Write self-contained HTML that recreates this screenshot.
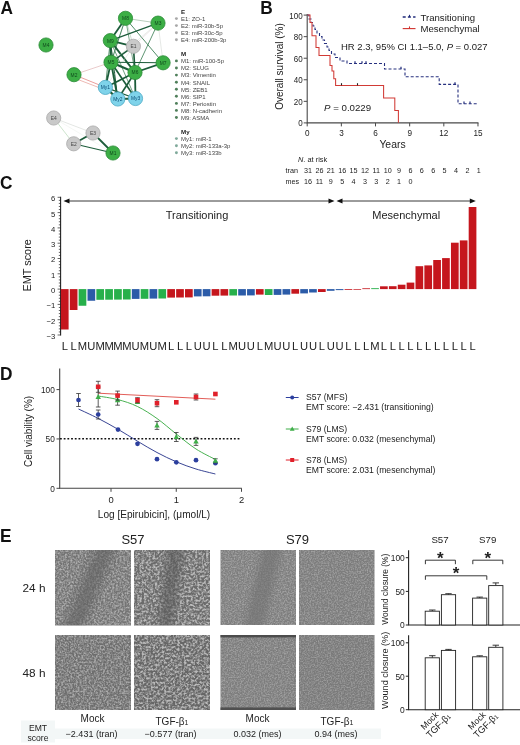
<!DOCTYPE html>
<html><head><meta charset="utf-8"><title>Figure</title>
<style>
html,body{margin:0;padding:0;background:#fff;}
body{width:520px;height:745px;overflow:hidden;}
svg{display:block;}
svg text{font-family:"Liberation Sans", sans-serif;fill:#222;}
.pl{font-weight:bold;font-size:18.8px;fill:#111;}
</style></head><body>
<svg width="520" height="745" viewBox="0 0 520 745">
<defs>
<filter id="spA" x="0" y="0" width="100%" height="100%" color-interpolation-filters="sRGB"><feTurbulence type="fractalNoise" baseFrequency="0.55" numOctaves="2" seed="3"/><feColorMatrix type="matrix" values="0 0 0 0 1  0 0 0 0 1  0 0 0 0 1  2.4 0 0 0 -0.85"/><feGaussianBlur stdDeviation="0.5"/><feComposite in2="SourceGraphic" operator="in"/></filter>
<filter id="spB" x="0" y="0" width="100%" height="100%" color-interpolation-filters="sRGB"><feTurbulence type="fractalNoise" baseFrequency="0.45" numOctaves="2" seed="11"/><feColorMatrix type="matrix" values="0 0 0 0 1  0 0 0 0 1  0 0 0 0 1  3.0 0 0 0 -1.15"/><feGaussianBlur stdDeviation="0.6"/><feComposite in2="SourceGraphic" operator="in"/></filter>
<filter id="spC" x="0" y="0" width="100%" height="100%" color-interpolation-filters="sRGB"><feTurbulence type="fractalNoise" baseFrequency="0.7" numOctaves="2" seed="5"/><feColorMatrix type="matrix" values="0 0 0 0 1  0 0 0 0 1  0 0 0 0 1  2.2 0 0 0 -0.8"/><feGaussianBlur stdDeviation="0.45"/><feComposite in2="SourceGraphic" operator="in"/></filter>
<filter id="spD" x="0" y="0" width="100%" height="100%" color-interpolation-filters="sRGB"><feTurbulence type="fractalNoise" baseFrequency="0.75" numOctaves="2" seed="21"/><feColorMatrix type="matrix" values="0 0 0 0 1  0 0 0 0 1  0 0 0 0 1  4 0 0 0 -1.9"/><feGaussianBlur stdDeviation="0.45"/><feComposite in2="SourceGraphic" operator="in"/></filter>
<linearGradient id="m1" x1="0" y1="0.3" x2="1" y2="0.7"><stop offset="0.000" stop-color="#fff" stop-opacity="1"/><stop offset="0.270" stop-color="#fff" stop-opacity="1"/><stop offset="0.420" stop-color="#fff" stop-opacity="0.4"/><stop offset="0.500" stop-color="#fff" stop-opacity="0.4"/><stop offset="0.650" stop-color="#fff" stop-opacity="1"/><stop offset="1.000" stop-color="#fff" stop-opacity="1"/></linearGradient>
<linearGradient id="d1" x1="0" y1="0.3" x2="1" y2="0.7"><stop offset="0.000" stop-color="#000" stop-opacity="0"/><stop offset="0.260" stop-color="#000" stop-opacity="0"/><stop offset="0.420" stop-color="#000" stop-opacity="0.1"/><stop offset="0.500" stop-color="#000" stop-opacity="0.1"/><stop offset="0.660" stop-color="#000" stop-opacity="0"/><stop offset="1.000" stop-color="#000" stop-opacity="0"/></linearGradient>
<linearGradient id="m2" x1="0" y1="0.435" x2="1" y2="0.565"><stop offset="0.000" stop-color="#fff" stop-opacity="1"/><stop offset="0.310" stop-color="#fff" stop-opacity="1"/><stop offset="0.440" stop-color="#fff" stop-opacity="0.4"/><stop offset="0.520" stop-color="#fff" stop-opacity="0.4"/><stop offset="0.650" stop-color="#fff" stop-opacity="1"/><stop offset="1.000" stop-color="#fff" stop-opacity="1"/></linearGradient>
<linearGradient id="d2" x1="0" y1="0.435" x2="1" y2="0.565"><stop offset="0.000" stop-color="#000" stop-opacity="0"/><stop offset="0.300" stop-color="#000" stop-opacity="0"/><stop offset="0.440" stop-color="#000" stop-opacity="0.1"/><stop offset="0.520" stop-color="#000" stop-opacity="0.1"/><stop offset="0.660" stop-color="#000" stop-opacity="0"/><stop offset="1.000" stop-color="#000" stop-opacity="0"/></linearGradient>
<linearGradient id="m3" x1="0" y1="0.385" x2="1" y2="0.615"><stop offset="0.000" stop-color="#fff" stop-opacity="1"/><stop offset="0.380" stop-color="#fff" stop-opacity="1"/><stop offset="0.500" stop-color="#fff" stop-opacity="0.4"/><stop offset="0.620" stop-color="#fff" stop-opacity="0.4"/><stop offset="0.740" stop-color="#fff" stop-opacity="1"/><stop offset="1.000" stop-color="#fff" stop-opacity="1"/></linearGradient>
<linearGradient id="d3" x1="0" y1="0.385" x2="1" y2="0.615"><stop offset="0.000" stop-color="#000" stop-opacity="0"/><stop offset="0.370" stop-color="#000" stop-opacity="0"/><stop offset="0.500" stop-color="#000" stop-opacity="0.06"/><stop offset="0.620" stop-color="#000" stop-opacity="0.06"/><stop offset="0.750" stop-color="#000" stop-opacity="0"/><stop offset="1.000" stop-color="#000" stop-opacity="0"/></linearGradient>
<linearGradient id="mfull"><stop offset="0" stop-color="#fff"/><stop offset="1" stop-color="#fff"/></linearGradient>
</defs>
<text class="pl" transform="translate(0.6,13.85) scale(0.92,1)">A</text>
<text class="pl" transform="translate(260.2,13.85) scale(0.92,1)">B</text>
<text class="pl" transform="translate(0.1,188.6) scale(0.92,1)">C</text>
<text class="pl" transform="translate(0,379.9) scale(0.92,1)">D</text>
<text class="pl" transform="translate(0,541.8) scale(0.92,1)">E</text>
<g id="panelA">
<line x1="125.5" y1="18.3" x2="158" y2="23.1" stroke="#a9c4ae" stroke-width="0.82"/>
<line x1="125.5" y1="18.3" x2="110.3" y2="40.6" stroke="#1c5c3a" stroke-width="1.80"/>
<line x1="125.5" y1="18.3" x2="111" y2="62.3" stroke="#4d8a63" stroke-width="1.07"/>
<line x1="125.5" y1="18.3" x2="133.4" y2="46.3" stroke="#a9c4ae" stroke-width="0.57"/>
<line x1="125.5" y1="18.3" x2="135" y2="72.5" stroke="#4d8a63" stroke-width="0.74"/>
<line x1="125.5" y1="18.3" x2="163.1" y2="62.8" stroke="#4d8a63" stroke-width="0.98"/>
<line x1="110.3" y1="40.6" x2="158" y2="23.1" stroke="#1c5c3a" stroke-width="1.15"/>
<line x1="110.3" y1="40.6" x2="133.4" y2="46.3" stroke="#1c5c3a" stroke-width="1.80"/>
<line x1="110.3" y1="40.6" x2="111" y2="62.3" stroke="#1c5c3a" stroke-width="2.13"/>
<line x1="110.3" y1="40.6" x2="135" y2="72.5" stroke="#1c5c3a" stroke-width="1.97"/>
<line x1="110.3" y1="40.6" x2="105.4" y2="87.4" stroke="#4d8a63" stroke-width="0.98"/>
<line x1="110.3" y1="40.6" x2="117.8" y2="99" stroke="#1c5c3a" stroke-width="1.15"/>
<line x1="110.3" y1="40.6" x2="135.5" y2="98.5" stroke="#4d8a63" stroke-width="0.82"/>
<line x1="158" y1="23.1" x2="133.4" y2="46.3" stroke="#d9c7cc" stroke-width="0.49"/>
<line x1="158" y1="23.1" x2="111" y2="62.3" stroke="#d4ddd2" stroke-width="0.49"/>
<line x1="158" y1="23.1" x2="135" y2="72.5" stroke="#4d8a63" stroke-width="0.90"/>
<line x1="158" y1="23.1" x2="163.1" y2="62.8" stroke="#c9cfc9" stroke-width="0.49"/>
<line x1="133.4" y1="46.3" x2="111" y2="62.3" stroke="#1c5c3a" stroke-width="1.48"/>
<line x1="133.4" y1="46.3" x2="135" y2="72.5" stroke="#1c5c3a" stroke-width="1.64"/>
<line x1="133.4" y1="46.3" x2="105.4" y2="87.4" stroke="#d4ddd2" stroke-width="0.49"/>
<line x1="111" y1="62.3" x2="163.1" y2="62.8" stroke="#1c5c3a" stroke-width="1.15"/>
<line x1="111" y1="62.3" x2="135" y2="72.5" stroke="#1c5c3a" stroke-width="2.13"/>
<line x1="135" y1="72.5" x2="163.1" y2="62.8" stroke="#1c5c3a" stroke-width="1.80"/>
<line x1="111" y1="62.3" x2="105.4" y2="87.4" stroke="#1c5c3a" stroke-width="1.80"/>
<line x1="111" y1="62.3" x2="117.8" y2="99" stroke="#1c5c3a" stroke-width="1.80"/>
<line x1="111" y1="62.3" x2="135.5" y2="98.5" stroke="#1c5c3a" stroke-width="1.64"/>
<line x1="135" y1="72.5" x2="105.4" y2="87.4" stroke="#1c5c3a" stroke-width="1.64"/>
<line x1="135" y1="72.5" x2="117.8" y2="99" stroke="#1c5c3a" stroke-width="1.64"/>
<line x1="135" y1="72.5" x2="135.5" y2="98.5" stroke="#1c5c3a" stroke-width="1.80"/>
<line x1="105.4" y1="87.4" x2="117.8" y2="99" stroke="#1c5c3a" stroke-width="2.13"/>
<line x1="117.8" y1="99" x2="135.5" y2="98.5" stroke="#1c5c3a" stroke-width="2.13"/>
<line x1="105.4" y1="87.4" x2="135.5" y2="98.5" stroke="#1c5c3a" stroke-width="1.31"/>
<line x1="74" y1="74.7" x2="111" y2="62.3" stroke="#d9a3a3" stroke-width="0.57"/>
<line x1="74" y1="74.7" x2="105.4" y2="87.4" stroke="#d9534f" stroke-width="0.57"/>
<line x1="53.7" y1="118" x2="93" y2="133" stroke="#cfd5cf" stroke-width="0.57"/>
<line x1="53.7" y1="118" x2="73.7" y2="143.8" stroke="#a6cfa6" stroke-width="0.57"/>
<line x1="53.7" y1="118" x2="113" y2="153" stroke="#e3ebe3" stroke-width="0.41"/>
<line x1="93" y1="133" x2="73.7" y2="143.8" stroke="#1c5c3a" stroke-width="1.80"/>
<line x1="93" y1="133" x2="113" y2="153" stroke="#1c5c3a" stroke-width="1.80"/>
<line x1="73.7" y1="143.8" x2="113" y2="153" stroke="#1c5c3a" stroke-width="1.07"/>
<line x1="74" y1="78" x2="104" y2="89.5" stroke="#e08a80" stroke-width="0.6"/>
<circle cx="125.5" cy="18.3" r="7.1" fill="#3cae45" stroke="#2a8c36" stroke-width="0.8"/><text x="125.5" y="20.2" text-anchor="middle" font-size="4.9" style="fill:#0f4a1c">M8</text>
<circle cx="158" cy="23.1" r="7.1" fill="#3cae45" stroke="#2a8c36" stroke-width="0.8"/><text x="158" y="25.0" text-anchor="middle" font-size="4.9" style="fill:#0f4a1c">M3</text>
<circle cx="110.3" cy="40.6" r="7.1" fill="#3cae45" stroke="#2a8c36" stroke-width="0.8"/><text x="110.3" y="42.5" text-anchor="middle" font-size="4.9" style="fill:#0f4a1c">M9</text>
<circle cx="133.4" cy="46.3" r="7.1" fill="#c9c9c9" stroke="#a9a9a9" stroke-width="0.8"/><text x="133.4" y="48.199999999999996" text-anchor="middle" font-size="4.9" style="fill:#444">E1</text>
<circle cx="111" cy="62.3" r="7.1" fill="#3cae45" stroke="#2a8c36" stroke-width="0.8"/><text x="111" y="64.2" text-anchor="middle" font-size="4.9" style="fill:#0f4a1c">M5</text>
<circle cx="163.1" cy="62.8" r="7.1" fill="#3cae45" stroke="#2a8c36" stroke-width="0.8"/><text x="163.1" y="64.7" text-anchor="middle" font-size="4.9" style="fill:#0f4a1c">M7</text>
<circle cx="135" cy="72.5" r="7.1" fill="#3cae45" stroke="#2a8c36" stroke-width="0.8"/><text x="135" y="74.4" text-anchor="middle" font-size="4.9" style="fill:#0f4a1c">M6</text>
<circle cx="74" cy="74.7" r="7.1" fill="#3cae45" stroke="#2a8c36" stroke-width="0.8"/><text x="74" y="76.60000000000001" text-anchor="middle" font-size="4.9" style="fill:#0f4a1c">M2</text>
<circle cx="105.4" cy="87.4" r="7.1" fill="#7fd3ea" stroke="#4aa8c4" stroke-width="0.8"/><text x="105.4" y="89.30000000000001" text-anchor="middle" font-size="4.9" style="fill:#0b4f78">My1</text>
<circle cx="117.8" cy="99" r="7.1" fill="#7fd3ea" stroke="#4aa8c4" stroke-width="0.8"/><text x="117.8" y="100.9" text-anchor="middle" font-size="4.9" style="fill:#0b4f78">My2</text>
<circle cx="135.5" cy="98.5" r="7.1" fill="#7fd3ea" stroke="#4aa8c4" stroke-width="0.8"/><text x="135.5" y="100.4" text-anchor="middle" font-size="4.9" style="fill:#0b4f78">My3</text>
<circle cx="46" cy="45" r="7.1" fill="#3cae45" stroke="#2a8c36" stroke-width="0.8"/><text x="46" y="46.9" text-anchor="middle" font-size="4.9" style="fill:#0f4a1c">M4</text>
<circle cx="53.7" cy="118" r="7.1" fill="#c9c9c9" stroke="#a9a9a9" stroke-width="0.8"/><text x="53.7" y="119.9" text-anchor="middle" font-size="4.9" style="fill:#444">E4</text>
<circle cx="93" cy="133" r="7.1" fill="#c9c9c9" stroke="#a9a9a9" stroke-width="0.8"/><text x="93" y="134.9" text-anchor="middle" font-size="4.9" style="fill:#444">E3</text>
<circle cx="73.7" cy="143.8" r="7.1" fill="#c9c9c9" stroke="#a9a9a9" stroke-width="0.8"/><text x="73.7" y="145.70000000000002" text-anchor="middle" font-size="4.9" style="fill:#444">E2</text>
<circle cx="113" cy="153" r="7.1" fill="#3cae45" stroke="#2a8c36" stroke-width="0.8"/><text x="113" y="154.9" text-anchor="middle" font-size="4.9" style="fill:#0f4a1c">M1</text>
<text x="181" y="13.8" font-size="6.2" font-weight="bold" style="fill:#222">E</text>
<circle cx="176.4" cy="18.6" r="1.45" fill="#a8a8a8"/><text x="181" y="20.9" font-size="6.0" style="fill:#444">E1: ZO-1</text>
<circle cx="176.4" cy="25.6" r="1.45" fill="#a8a8a8"/><text x="181" y="27.9" font-size="6.0" style="fill:#444">E2: miR-30b-5p</text>
<circle cx="176.4" cy="32.7" r="1.45" fill="#a8a8a8"/><text x="181" y="35.0" font-size="6.0" style="fill:#444">E3: miR-30c-5p</text>
<circle cx="176.4" cy="39.8" r="1.45" fill="#a8a8a8"/><text x="181" y="42.1" font-size="6.0" style="fill:#444">E4: miR-200b-3p</text>
<text x="181" y="56.1" font-size="6.2" font-weight="bold" style="fill:#222">M</text>
<circle cx="176.4" cy="60.9" r="1.45" fill="#4f7f5a"/><text x="181" y="63.2" font-size="6.0" style="fill:#444">M1: miR-100-5p</text>
<circle cx="176.4" cy="68.0" r="1.45" fill="#4f7f5a"/><text x="181" y="70.3" font-size="6.0" style="fill:#444">M2: SLUG</text>
<circle cx="176.4" cy="75.1" r="1.45" fill="#4f7f5a"/><text x="181" y="77.4" font-size="6.0" style="fill:#444">M3: Vimentin</text>
<circle cx="176.4" cy="82.2" r="1.45" fill="#4f7f5a"/><text x="181" y="84.5" font-size="6.0" style="fill:#444">M4: SNAIL</text>
<circle cx="176.4" cy="89.2" r="1.45" fill="#4f7f5a"/><text x="181" y="91.5" font-size="6.0" style="fill:#444">M5: ZEB1</text>
<circle cx="176.4" cy="96.3" r="1.45" fill="#4f7f5a"/><text x="181" y="98.6" font-size="6.0" style="fill:#444">M6: SIP1</text>
<circle cx="176.4" cy="103.4" r="1.45" fill="#4f7f5a"/><text x="181" y="105.7" font-size="6.0" style="fill:#444">M7: Periostin</text>
<circle cx="176.4" cy="110.4" r="1.45" fill="#4f7f5a"/><text x="181" y="112.7" font-size="6.0" style="fill:#444">M8: N-cadherin</text>
<circle cx="176.4" cy="117.5" r="1.45" fill="#4f7f5a"/><text x="181" y="119.8" font-size="6.0" style="fill:#444">M9: ASMA</text>
<text x="181" y="133.8" font-size="6.2" font-weight="bold" style="fill:#222">My</text>
<circle cx="176.4" cy="138.6" r="1.45" fill="#7fa99a"/><text x="181" y="140.9" font-size="6.0" style="fill:#444">My1: miR-1</text>
<circle cx="176.4" cy="145.7" r="1.45" fill="#7fa99a"/><text x="181" y="148.0" font-size="6.0" style="fill:#444">My2: miR-133a-3p</text>
<circle cx="176.4" cy="152.7" r="1.45" fill="#7fa99a"/><text x="181" y="155.0" font-size="6.0" style="fill:#444">My3: miR-133b</text>
</g>
<g id="panelB">
<path d="M307.2 14.099999999999994V122.9H478.475" fill="none" stroke="#4a4a4a" stroke-width="1.1"/>
<line x1="303.7" x2="307.2" y1="122.9" y2="122.9" stroke="#4a4a4a" stroke-width="1"/><text transform="translate(302.59999999999997,126.3) scale(0.9,1)" text-anchor="end" font-size="8.9">0</text>
<line x1="303.7" x2="307.2" y1="101.34" y2="101.34" stroke="#4a4a4a" stroke-width="1"/><text transform="translate(302.59999999999997,104.7) scale(0.9,1)" text-anchor="end" font-size="8.9">20</text>
<line x1="303.7" x2="307.2" y1="79.78" y2="79.78" stroke="#4a4a4a" stroke-width="1"/><text transform="translate(302.59999999999997,83.2) scale(0.9,1)" text-anchor="end" font-size="8.9">40</text>
<line x1="303.7" x2="307.2" y1="58.22" y2="58.22" stroke="#4a4a4a" stroke-width="1"/><text transform="translate(302.59999999999997,61.6) scale(0.9,1)" text-anchor="end" font-size="8.9">60</text>
<line x1="303.7" x2="307.2" y1="36.66" y2="36.66" stroke="#4a4a4a" stroke-width="1"/><text transform="translate(302.59999999999997,40.1) scale(0.9,1)" text-anchor="end" font-size="8.9">80</text>
<line x1="303.7" x2="307.2" y1="15.099999999999994" y2="15.099999999999994" stroke="#4a4a4a" stroke-width="1"/><text transform="translate(302.59999999999997,18.5) scale(0.9,1)" text-anchor="end" font-size="8.9">100</text>
<line x1="307.2" x2="307.2" y1="122.9" y2="126.4" stroke="#4a4a4a" stroke-width="1"/><text transform="translate(307.2,135.9) scale(0.92,1)" text-anchor="middle" font-size="8.9">0</text>
<line x1="341.355" x2="341.355" y1="122.9" y2="126.4" stroke="#4a4a4a" stroke-width="1"/><text transform="translate(341.4,135.9) scale(0.92,1)" text-anchor="middle" font-size="8.9">3</text>
<line x1="375.51" x2="375.51" y1="122.9" y2="126.4" stroke="#4a4a4a" stroke-width="1"/><text transform="translate(375.5,135.9) scale(0.92,1)" text-anchor="middle" font-size="8.9">6</text>
<line x1="409.66499999999996" x2="409.66499999999996" y1="122.9" y2="126.4" stroke="#4a4a4a" stroke-width="1"/><text transform="translate(409.7,135.9) scale(0.92,1)" text-anchor="middle" font-size="8.9">9</text>
<line x1="443.82" x2="443.82" y1="122.9" y2="126.4" stroke="#4a4a4a" stroke-width="1"/><text transform="translate(443.8,135.9) scale(0.92,1)" text-anchor="middle" font-size="8.9">12</text>
<line x1="477.975" x2="477.975" y1="122.9" y2="126.4" stroke="#4a4a4a" stroke-width="1"/><text transform="translate(478.0,135.9) scale(0.92,1)" text-anchor="middle" font-size="8.9">15</text>
<text transform="translate(283.2,66.5) rotate(-90)" text-anchor="middle" font-size="10">Overall survival (%)</text>
<text x="392.5" y="148.3" text-anchor="middle" font-size="10.4">Years</text>
<path d="M307.5 15 L309 15 L309 19 L311 19 L311 22.5 L313 22.5 L313 26 L315 26 L315 29.5 L317 29.5 L317 33 L319.5 33 L319.5 36.5 L322 36.5 L322 40 L324.5 40 L324.5 43.5 L327 43.5 L327 47 L329 47 L329 50.5 L331.5 50.5 L331.5 54 L335 54 L335 57.5 L340 57.5 L340 61 L347 61 L347 63.5 L384.5 63.5 L384.5 69 L405 69 L405 76.8 L439.2 76.8 L439.2 84.4 L458 84.4 L458 103.8 L478 103.8" fill="none" stroke="#27307f" stroke-width="1.1" stroke-dasharray="3 2"/>
<line x1="355" x2="355" y1="61.3" y2="63.5" stroke="#1f2a7a" stroke-width="1.2"/><line x1="362" x2="362" y1="61.3" y2="63.5" stroke="#1f2a7a" stroke-width="1.2"/><line x1="366" x2="366" y1="61.3" y2="63.5" stroke="#1f2a7a" stroke-width="1.2"/><line x1="401" x2="401" y1="66.8" y2="69" stroke="#1f2a7a" stroke-width="1.2"/><line x1="455" x2="455" y1="82.2" y2="84.4" stroke="#1f2a7a" stroke-width="1.2"/><line x1="464" x2="464" y1="101.6" y2="103.8" stroke="#1f2a7a" stroke-width="1.2"/><line x1="470" x2="470" y1="101.6" y2="103.8" stroke="#1f2a7a" stroke-width="1.2"/>
<path d="M307.5 15 L310 15 L310 22.5 L312 22.5 L312 35.7 L316 35.7 L316 47.5 L319 47.5 L319 55.5 L330 55.5 L330 65.5 L332 65.5 L332 71 L333.8 71 L333.8 78.7 L335.6 78.7 L335.6 85.4 L383.6 85.4 L383.6 98 L394.8 98 L394.8 110.5 L398.4 110.5 L398.4 122.8" fill="none" stroke="#d13a35" stroke-width="1.05"/>
<line x1="341.5" x2="341.5" y1="83.2" y2="85.4" stroke="#222" stroke-width="1.1"/><line x1="357.5" x2="357.5" y1="83.2" y2="85.4" stroke="#222" stroke-width="1.1"/>
<line x1="402.7" x2="415.5" y1="17" y2="17" stroke="#1f2a7a" stroke-width="1.3" stroke-dasharray="3 2.2"/><line x1="409.5" x2="409.5" y1="14.8" y2="17" stroke="#1f2a7a" stroke-width="1.1"/><text x="420.5" y="20.6" font-size="9.6">Transitioning</text>
<line x1="402.7" x2="415.5" y1="28.6" y2="28.6" stroke="#d0312d" stroke-width="1.1"/><line x1="409.5" x2="409.5" y1="26.4" y2="28.6" stroke="#d0312d" stroke-width="1.1"/><text x="420.5" y="31.8" font-size="9.6">Mesenchymal</text>
<text x="341" y="50" font-size="9.5">HR 2.3, 95% CI 1.1–5.0, <tspan font-style="italic">P</tspan> = 0.027</text>
<text x="324" y="111" font-size="9.7"><tspan font-style="italic">P</tspan> = 0.0229</text>
<text x="298" y="162.3" font-size="7.4"><tspan font-style="italic">N</tspan>. at risk</text>
<text x="285.5" y="172.6" font-size="7.2">tran</text><text x="285.5" y="184.3" font-size="7.2">mes</text>
<text x="308.0" y="172.6" text-anchor="middle" font-size="7.2">31</text><text x="319.4" y="172.6" text-anchor="middle" font-size="7.2">26</text><text x="330.8" y="172.6" text-anchor="middle" font-size="7.2">21</text><text x="342.2" y="172.6" text-anchor="middle" font-size="7.2">16</text><text x="353.5" y="172.6" text-anchor="middle" font-size="7.2">15</text><text x="364.9" y="172.6" text-anchor="middle" font-size="7.2">12</text><text x="376.3" y="172.6" text-anchor="middle" font-size="7.2">11</text><text x="387.7" y="172.6" text-anchor="middle" font-size="7.2">10</text><text x="399.1" y="172.6" text-anchor="middle" font-size="7.2">9</text><text x="410.5" y="172.6" text-anchor="middle" font-size="7.2">6</text><text x="421.8" y="172.6" text-anchor="middle" font-size="7.2">6</text><text x="433.2" y="172.6" text-anchor="middle" font-size="7.2">6</text><text x="444.6" y="172.6" text-anchor="middle" font-size="7.2">5</text><text x="456.0" y="172.6" text-anchor="middle" font-size="7.2">4</text><text x="467.4" y="172.6" text-anchor="middle" font-size="7.2">2</text><text x="478.8" y="172.6" text-anchor="middle" font-size="7.2">1</text>
<text x="308.0" y="184.3" text-anchor="middle" font-size="7.2">16</text><text x="319.4" y="184.3" text-anchor="middle" font-size="7.2">11</text><text x="330.8" y="184.3" text-anchor="middle" font-size="7.2">9</text><text x="342.2" y="184.3" text-anchor="middle" font-size="7.2">5</text><text x="353.5" y="184.3" text-anchor="middle" font-size="7.2">4</text><text x="364.9" y="184.3" text-anchor="middle" font-size="7.2">3</text><text x="376.3" y="184.3" text-anchor="middle" font-size="7.2">3</text><text x="387.7" y="184.3" text-anchor="middle" font-size="7.2">2</text><text x="399.1" y="184.3" text-anchor="middle" font-size="7.2">1</text><text x="410.5" y="184.3" text-anchor="middle" font-size="7.2">0</text>
</g>
<g id="panelC">
<line x1="60.6" x2="60.6" y1="196.8" y2="335.5" stroke="#222" stroke-width="1.1"/>
<path d="M57.6 335.00H60.6M58.8 331.94H60.6M58.8 328.88H60.6M58.8 325.82H60.6M58.8 322.76H60.6M57.6 319.70H60.6M58.8 316.64H60.6M58.8 313.58H60.6M58.8 310.52H60.6M58.8 307.46H60.6M57.6 304.40H60.6M58.8 301.34H60.6M58.8 298.28H60.6M58.8 295.22H60.6M58.8 292.16H60.6M57.6 289.10H60.6M58.8 286.04H60.6M58.8 282.98H60.6M58.8 279.92H60.6M58.8 276.86H60.6M57.6 273.80H60.6M58.8 270.74H60.6M58.8 267.68H60.6M58.8 264.62H60.6M58.8 261.56H60.6M57.6 258.50H60.6M58.8 255.44H60.6M58.8 252.38H60.6M58.8 249.32H60.6M58.8 246.26H60.6M57.6 243.20H60.6M58.8 240.14H60.6M58.8 237.08H60.6M58.8 234.02H60.6M58.8 230.96H60.6M57.6 227.90H60.6M58.8 224.84H60.6M58.8 221.78H60.6M58.8 218.72H60.6M58.8 215.66H60.6M57.6 212.60H60.6M58.8 209.54H60.6M58.8 206.48H60.6M58.8 203.42H60.6M58.8 200.36H60.6M57.6 197.30H60.6" stroke="#222" stroke-width="0.7" fill="none"/>
<text x="55.2" y="338.9" text-anchor="end" font-size="7.7">−3</text><text x="55.2" y="323.6" text-anchor="end" font-size="7.7">−2</text><text x="55.2" y="308.3" text-anchor="end" font-size="7.7">−1</text><text x="55.2" y="293.0" text-anchor="end" font-size="7.7">0</text><text x="55.2" y="277.7" text-anchor="end" font-size="7.7">1</text><text x="55.2" y="262.4" text-anchor="end" font-size="7.7">2</text><text x="55.2" y="247.1" text-anchor="end" font-size="7.7">3</text><text x="55.2" y="231.8" text-anchor="end" font-size="7.7">4</text><text x="55.2" y="216.5" text-anchor="end" font-size="7.7">5</text><text x="55.2" y="201.2" text-anchor="end" font-size="7.7">6</text>
<text transform="translate(31.4,265.4) rotate(-90)" text-anchor="middle" font-size="10.9">EMT score</text>
<rect x="60.90" y="289.10" width="7.7" height="40.40" fill="#c5161d"/><rect x="69.77" y="289.10" width="7.7" height="20.90" fill="#c5161d"/><rect x="78.63" y="289.10" width="7.7" height="16.65" fill="#27b04b"/><rect x="87.50" y="289.10" width="7.7" height="11.65" fill="#2b5ba8"/><rect x="96.36" y="289.10" width="7.7" height="10.70" fill="#27b04b"/><rect x="105.22" y="289.10" width="7.7" height="10.60" fill="#27b04b"/><rect x="114.09" y="289.10" width="7.7" height="10.50" fill="#27b04b"/><rect x="122.95" y="289.10" width="7.7" height="10.40" fill="#27b04b"/><rect x="131.82" y="289.10" width="7.7" height="9.80" fill="#2b5ba8"/><rect x="140.69" y="289.10" width="7.7" height="9.70" fill="#27b04b"/><rect x="149.55" y="289.10" width="7.7" height="9.50" fill="#2b5ba8"/><rect x="158.41" y="289.10" width="7.7" height="9.40" fill="#27b04b"/><rect x="167.28" y="289.10" width="7.7" height="8.50" fill="#c5161d"/><rect x="176.15" y="289.10" width="7.7" height="8.40" fill="#c5161d"/><rect x="185.01" y="289.10" width="7.7" height="8.30" fill="#c5161d"/><rect x="193.88" y="289.10" width="7.7" height="7.30" fill="#2b5ba8"/><rect x="202.74" y="289.10" width="7.7" height="7.20" fill="#2b5ba8"/><rect x="211.61" y="289.10" width="7.7" height="6.60" fill="#c5161d"/><rect x="220.47" y="289.10" width="7.7" height="6.50" fill="#c5161d"/><rect x="229.34" y="289.10" width="7.7" height="6.40" fill="#27b04b"/><rect x="238.20" y="289.10" width="7.7" height="6.40" fill="#2b5ba8"/><rect x="247.06" y="289.10" width="7.7" height="6.30" fill="#2b5ba8"/><rect x="255.93" y="289.10" width="7.7" height="5.50" fill="#c5161d"/><rect x="264.80" y="289.10" width="7.7" height="5.90" fill="#27b04b"/><rect x="273.66" y="289.10" width="7.7" height="5.80" fill="#2b5ba8"/><rect x="282.52" y="289.10" width="7.7" height="5.50" fill="#2b5ba8"/><rect x="291.39" y="289.10" width="7.7" height="4.60" fill="#c5161d"/><rect x="300.25" y="289.10" width="7.7" height="4.30" fill="#2b5ba8"/><rect x="309.12" y="289.10" width="7.7" height="3.40" fill="#2b5ba8"/><rect x="317.98" y="289.10" width="7.7" height="2.90" fill="#c5161d"/><rect x="326.85" y="289.10" width="7.7" height="1.70" fill="#2b5ba8"/><rect x="335.71" y="289.10" width="7.7" height="1.00" fill="#2b5ba8"/><rect x="344.58" y="289.10" width="7.7" height="0.80" fill="#c5161d"/><rect x="353.44" y="289.10" width="7.7" height="0.70" fill="#c5161d"/><rect x="362.31" y="288.30" width="7.7" height="0.80" fill="#c5161d"/><rect x="371.18" y="288.20" width="7.7" height="0.90" fill="#27b04b"/><rect x="380.04" y="286.30" width="7.7" height="2.80" fill="#c5161d"/><rect x="388.90" y="286.20" width="7.7" height="2.90" fill="#c5161d"/><rect x="397.77" y="284.70" width="7.7" height="4.40" fill="#c5161d"/><rect x="406.63" y="282.60" width="7.7" height="6.50" fill="#c5161d"/><rect x="415.50" y="266.20" width="7.7" height="22.90" fill="#c5161d"/><rect x="424.37" y="265.40" width="7.7" height="23.70" fill="#c5161d"/><rect x="433.23" y="260.00" width="7.7" height="29.10" fill="#c5161d"/><rect x="442.09" y="258.10" width="7.7" height="31.00" fill="#c5161d"/><rect x="450.96" y="242.70" width="7.7" height="46.40" fill="#c5161d"/><rect x="459.82" y="240.40" width="7.7" height="48.70" fill="#c5161d"/><rect x="468.69" y="207.00" width="7.7" height="82.10" fill="#c5161d"/>
<text x="64.75" y="349.6" text-anchor="middle" font-size="11.2">L</text><text x="73.61" y="349.6" text-anchor="middle" font-size="11.2">L</text><text x="82.48" y="349.6" text-anchor="middle" font-size="11.2">M</text><text x="91.34" y="349.6" text-anchor="middle" font-size="11.2">U</text><text x="100.21" y="349.6" text-anchor="middle" font-size="11.2">M</text><text x="109.07" y="349.6" text-anchor="middle" font-size="11.2">M</text><text x="117.94" y="349.6" text-anchor="middle" font-size="11.2">M</text><text x="126.80" y="349.6" text-anchor="middle" font-size="11.2">M</text><text x="135.67" y="349.6" text-anchor="middle" font-size="11.2">U</text><text x="144.53" y="349.6" text-anchor="middle" font-size="11.2">M</text><text x="153.40" y="349.6" text-anchor="middle" font-size="11.2">U</text><text x="162.26" y="349.6" text-anchor="middle" font-size="11.2">M</text><text x="171.13" y="349.6" text-anchor="middle" font-size="11.2">L</text><text x="180.00" y="349.6" text-anchor="middle" font-size="11.2">L</text><text x="188.86" y="349.6" text-anchor="middle" font-size="11.2">L</text><text x="197.72" y="349.6" text-anchor="middle" font-size="11.2">U</text><text x="206.59" y="349.6" text-anchor="middle" font-size="11.2">U</text><text x="215.46" y="349.6" text-anchor="middle" font-size="11.2">L</text><text x="224.32" y="349.6" text-anchor="middle" font-size="11.2">L</text><text x="233.19" y="349.6" text-anchor="middle" font-size="11.2">M</text><text x="242.05" y="349.6" text-anchor="middle" font-size="11.2">U</text><text x="250.91" y="349.6" text-anchor="middle" font-size="11.2">U</text><text x="259.78" y="349.6" text-anchor="middle" font-size="11.2">L</text><text x="268.65" y="349.6" text-anchor="middle" font-size="11.2">M</text><text x="277.51" y="349.6" text-anchor="middle" font-size="11.2">U</text><text x="286.38" y="349.6" text-anchor="middle" font-size="11.2">U</text><text x="295.24" y="349.6" text-anchor="middle" font-size="11.2">L</text><text x="304.11" y="349.6" text-anchor="middle" font-size="11.2">U</text><text x="312.97" y="349.6" text-anchor="middle" font-size="11.2">U</text><text x="321.83" y="349.6" text-anchor="middle" font-size="11.2">L</text><text x="330.70" y="349.6" text-anchor="middle" font-size="11.2">U</text><text x="339.56" y="349.6" text-anchor="middle" font-size="11.2">U</text><text x="348.43" y="349.6" text-anchor="middle" font-size="11.2">L</text><text x="357.30" y="349.6" text-anchor="middle" font-size="11.2">L</text><text x="366.16" y="349.6" text-anchor="middle" font-size="11.2">L</text><text x="375.03" y="349.6" text-anchor="middle" font-size="11.2">M</text><text x="383.89" y="349.6" text-anchor="middle" font-size="11.2">L</text><text x="392.75" y="349.6" text-anchor="middle" font-size="11.2">L</text><text x="401.62" y="349.6" text-anchor="middle" font-size="11.2">L</text><text x="410.49" y="349.6" text-anchor="middle" font-size="11.2">L</text><text x="419.35" y="349.6" text-anchor="middle" font-size="11.2">L</text><text x="428.22" y="349.6" text-anchor="middle" font-size="11.2">L</text><text x="437.08" y="349.6" text-anchor="middle" font-size="11.2">L</text><text x="445.94" y="349.6" text-anchor="middle" font-size="11.2">L</text><text x="454.81" y="349.6" text-anchor="middle" font-size="11.2">L</text><text x="463.68" y="349.6" text-anchor="middle" font-size="11.2">L</text><text x="472.54" y="349.6" text-anchor="middle" font-size="11.2">L</text>
<line x1="66.5" x2="331.5" y1="201" y2="201" stroke="#222" stroke-width="0.9"/><path d="M63.5 201l6 -2.6v5.2z" fill="#111"/><path d="M334.5 201l-6 -2.6v5.2z" fill="#111"/>
<line x1="339.5" x2="472.8" y1="201" y2="201" stroke="#222" stroke-width="0.9"/><path d="M336.5 201l6 -2.6v5.2z" fill="#111"/><path d="M475.8 201l-6 -2.6v5.2z" fill="#111"/>
<text x="197" y="219.3" text-anchor="middle" font-size="11">Transitioning</text><text x="406.2" y="219.3" text-anchor="middle" font-size="11">Mesenchymal</text>
</g>
<g id="panelD">
<path d="M59.7 368.5V488.3H241.8" fill="none" stroke="#444" stroke-width="1.1"/>
<line x1="56.5" x2="60" y1="488.3" y2="488.3" stroke="#444" stroke-width="1"/><text transform="translate(54.8,491.6) scale(0.9,1)" text-anchor="end" font-size="9.2">0</text><line x1="56.5" x2="60" y1="438.95" y2="438.95" stroke="#444" stroke-width="1"/><text transform="translate(54.8,442.2) scale(0.9,1)" text-anchor="end" font-size="9.2">50</text><line x1="56.5" x2="60" y1="389.6" y2="389.6" stroke="#444" stroke-width="1"/><text transform="translate(54.8,392.9) scale(0.9,1)" text-anchor="end" font-size="9.2">100</text><line x1="111.0" x2="111.0" y1="488.3" y2="491.8" stroke="#444" stroke-width="1"/><text x="111.0" y="503.3" text-anchor="middle" font-size="9.4">0</text><line x1="176.25" x2="176.25" y1="488.3" y2="491.8" stroke="#444" stroke-width="1"/><text x="176.25" y="503.3" text-anchor="middle" font-size="9.4">1</text><line x1="241.5" x2="241.5" y1="488.3" y2="491.8" stroke="#444" stroke-width="1"/><text x="241.5" y="503.3" text-anchor="middle" font-size="9.4">2</text>
<text transform="translate(31.6,431.4) rotate(-90)" text-anchor="middle" font-size="10">Cell viability (%)</text>
<text x="154" y="517.8" text-anchor="middle" font-size="10.1">Log [Epirubicin], (μmol/L)</text>
<line x1="60" x2="241" y1="438.7" y2="438.7" stroke="#111" stroke-width="1.6" stroke-dasharray="1.8 1.9"/>
<path d="M78.5 409C81.8 410.6 91.4 414.9 98 418.3C104.6 421.7 111.4 425.5 118 429.3C124.6 433.1 131.0 437.3 137.5 441.2C144.0 445.1 150.5 449.1 157 452.5C163.5 455.9 169.8 459.1 176.3 461.8C182.8 464.6 189.5 467.0 196 469C202.5 471.0 212.2 473.2 215.4 474" fill="none" stroke="#2e3b8e" stroke-width="0.95"/>
<path d="M98 396C101.2 396.6 110.9 397.8 117.5 399.5C124.1 401.2 130.9 403.3 137.5 406.5C144.1 409.7 150.5 413.9 157 418.5C163.5 423.1 169.8 428.9 176.3 434C182.8 439.1 189.5 444.8 196 449C202.5 453.2 212.2 457.8 215.4 459.5" fill="none" stroke="#3fae49" stroke-width="0.95"/>
<path d="M98 393.2L215.4 399.2" fill="none" stroke="#e0544f" stroke-width="0.95"/>
<path d="M78.5 393.5V406.5M76.2 393.5h4.6M76.2 406.5h4.6" stroke="#333" stroke-width="0.8" fill="none"/><circle cx="78.5" cy="400" r="2.35" fill="#2c3f9e"/><path d="M98.2 410.0V419.0M95.9 410.0h4.6M95.9 419.0h4.6" stroke="#333" stroke-width="0.8" fill="none"/><circle cx="98.2" cy="414.5" r="2.35" fill="#2c3f9e"/><circle cx="118" cy="429.6" r="2.35" fill="#2c3f9e"/><circle cx="137.5" cy="443.8" r="2.35" fill="#2c3f9e"/><circle cx="157" cy="459.2" r="2.35" fill="#2c3f9e"/><circle cx="176.3" cy="462.3" r="2.35" fill="#2c3f9e"/><circle cx="196" cy="460.2" r="2.35" fill="#2c3f9e"/><circle cx="215.4" cy="463.2" r="2.35" fill="#2c3f9e"/>
<path d="M98.2 387V407M95.9 387h4.6M95.9 407h4.6" stroke="#333" stroke-width="0.8" fill="none"/><path d="M98.2 394l2.7 5h-5.4z" fill="#3fae49"/><path d="M117.6 395.2V405.2M115.3 395.2h4.6M115.3 405.2h4.6" stroke="#333" stroke-width="0.8" fill="none"/><path d="M117.6 397.2l2.7 5h-5.4z" fill="#3fae49"/><path d="M137.5 399l2.7 5h-5.4z" fill="#3fae49"/><path d="M157 421.4V429.4M154.7 421.4h4.6M154.7 429.4h4.6" stroke="#333" stroke-width="0.8" fill="none"/><path d="M157 422.4l2.7 5h-5.4z" fill="#3fae49"/><path d="M176.3 432.5V441.5M174.0 432.5h4.6M174.0 441.5h4.6" stroke="#333" stroke-width="0.8" fill="none"/><path d="M176.3 434l2.7 5h-5.4z" fill="#3fae49"/><path d="M196 437.4V445.4M193.7 437.4h4.6M193.7 445.4h4.6" stroke="#333" stroke-width="0.8" fill="none"/><path d="M196 438.4l2.7 5h-5.4z" fill="#3fae49"/><path d="M215.4 458.8V462.8M213.1 458.8h4.6M213.1 462.8h4.6" stroke="#333" stroke-width="0.8" fill="none"/><path d="M215.4 457.8l2.7 5h-5.4z" fill="#3fae49"/>
<path d="M98.2 381.3V392.3M95.9 381.3h4.6M95.9 392.3h4.6" stroke="#333" stroke-width="0.8" fill="none"/><rect x="95.9" y="384.5" width="4.6" height="4.6" fill="#e0202a"/><path d="M117.6 391.1V400.1M115.3 391.1h4.6M115.3 400.1h4.6" stroke="#333" stroke-width="0.8" fill="none"/><rect x="115.3" y="393.3" width="4.6" height="4.6" fill="#e0202a"/><path d="M137.5 397.7V402.7M135.2 397.7h4.6M135.2 402.7h4.6" stroke="#333" stroke-width="0.8" fill="none"/><rect x="135.2" y="397.9" width="4.6" height="4.6" fill="#e0202a"/><path d="M157 399.7V406.7M154.7 399.7h4.6M154.7 406.7h4.6" stroke="#333" stroke-width="0.8" fill="none"/><rect x="154.7" y="400.9" width="4.6" height="4.6" fill="#e0202a"/><rect x="174.0" y="400.0" width="4.6" height="4.6" fill="#e0202a"/><path d="M196 394V400M193.7 394h4.6M193.7 400h4.6" stroke="#333" stroke-width="0.8" fill="none"/><rect x="193.7" y="394.7" width="4.6" height="4.6" fill="#e0202a"/><rect x="213.1" y="391.7" width="4.6" height="4.6" fill="#e0202a"/>
<line x1="285.8" x2="298.6" y1="397.5" y2="397.5" stroke="#2c3f9e" stroke-width="1.0"/><circle cx="292.2" cy="397.5" r="2" fill="#2c3f9e"/><text x="306" y="400.2" font-size="8.65">S57 (MFS)</text><text x="306" y="410.4" font-size="8.65">EMT score: −2.431 (transitioning)</text>
<line x1="285.8" x2="298.6" y1="429" y2="429" stroke="#3fae49" stroke-width="1.0"/><path d="M292.2 426.4l2.4 4.4h-4.8z" fill="#3fae49"/><text x="306" y="431.7" font-size="8.65">S79 (LMS)</text><text x="306" y="441.9" font-size="8.65">EMT score: 0.032 (mesenchymal)</text>
<line x1="285.8" x2="298.6" y1="460" y2="460" stroke="#e0202a" stroke-width="1.0"/><rect x="290.2" y="458" width="4" height="4" fill="#e0202a"/><text x="306" y="462.7" font-size="8.65">S78 (LMS)</text><text x="306" y="472.9" font-size="8.65">EMT score: 2.031 (mesenchymal)</text>
</g>
<g id="panelE">
<text x="133" y="544.3" text-anchor="middle" font-size="13">S57</text><text x="297.5" y="544.3" text-anchor="middle" font-size="13">S79</text>
<text x="22.5" y="592.2" font-size="11.8">24 h</text><text x="22.5" y="677.2" font-size="11.8">48 h</text>
<rect x="55" y="550" width="76" height="75.5" fill="#737373"/><rect x="55" y="550" width="76" height="75.5" fill="url(#d1)"/><rect x="55" y="550" width="76" height="75.5" fill="url(#m1)" filter="url(#spA)" opacity="0.44"/>
<rect x="134" y="550" width="76" height="75.5" fill="#6b6b6b"/><rect x="134" y="550" width="76" height="75.5" fill="url(#d2)"/><rect x="134" y="550" width="76" height="75.5" fill="url(#m2)" filter="url(#spB)" opacity="0.54"/>
<rect x="55" y="635" width="76" height="75" fill="#6d6d6d"/><rect x="55" y="635" width="76" height="75" fill="url(#mfull)" filter="url(#spA)" opacity="0.44"/>
<rect x="134" y="635" width="76" height="75" fill="#666666"/><rect x="134" y="635" width="76" height="75" fill="url(#mfull)" filter="url(#spB)" opacity="0.54"/>
<rect x="220.5" y="550" width="75.5" height="75" fill="#7e7e7e"/><rect x="220.5" y="550" width="75.5" height="75" fill="url(#d3)"/><rect x="220.5" y="550" width="75.5" height="75" fill="url(#m3)" filter="url(#spC)" opacity="0.32"/>
<rect x="299" y="550" width="75.5" height="75" fill="#7c7c7c"/><rect x="299" y="550" width="75.5" height="75" fill="url(#mfull)" filter="url(#spC)" opacity="0.3"/>
<rect x="220.5" y="635" width="75.5" height="75" fill="#7d7d7d"/><rect x="220.5" y="635" width="75.5" height="75" fill="url(#mfull)" filter="url(#spC)" opacity="0.3"/>
<rect x="299" y="635" width="75.5" height="75" fill="#7a7a7a"/><rect x="299" y="635" width="75.5" height="75" fill="url(#mfull)" filter="url(#spC)" opacity="0.28"/>
<rect x="220.5" y="635" width="75.5" height="2.4" fill="#4c4c4c"/><rect x="220.5" y="707.4" width="75.5" height="2.6" fill="#505050"/>
<rect x="21" y="720.5" width="34" height="22" fill="#f3f7f7"/><rect x="55" y="728.5" width="326" height="10.5" fill="#f3f7f7"/>
<text x="38" y="730.8" text-anchor="middle" font-size="8.6">EMT</text><text x="38" y="740.6" text-anchor="middle" font-size="8.6">score</text>
<text x="92.5" y="722.4" text-anchor="middle" font-size="10">Mock</text><text x="257.5" y="722.4" text-anchor="middle" font-size="10">Mock</text><text x="172" y="725.4" text-anchor="middle" font-size="10">TGF-β<tspan font-size="7">1</tspan></text><text x="337" y="725.4" text-anchor="middle" font-size="10">TGF-β<tspan font-size="7">1</tspan></text>
<text x="91.5" y="736.7" text-anchor="middle" font-size="9">−2.431 (tran)</text><text x="170.5" y="736.7" text-anchor="middle" font-size="9">−0.577 (tran)</text><text x="257.5" y="736.7" text-anchor="middle" font-size="9">0.032 (mes)</text><text x="336" y="736.7" text-anchor="middle" font-size="9">0.94 (mes)</text>
<text x="440" y="543.2" text-anchor="middle" font-size="9.7">S57</text><text x="487.7" y="543.2" text-anchor="middle" font-size="9.7">S79</text>
<path d="M408.6 550.2V625H520" fill="none" stroke="#222" stroke-width="1.1"/><line x1="405.8" x2="408.6" y1="625.0" y2="625.0" stroke="#222" stroke-width="1"/><text transform="translate(404.8,628.3) scale(0.9,1)" text-anchor="end" font-size="9.4">0</text><line x1="405.8" x2="408.6" y1="591.4" y2="591.4" stroke="#222" stroke-width="1"/><text transform="translate(404.8,594.6) scale(0.9,1)" text-anchor="end" font-size="9.4">50</text><line x1="405.8" x2="408.6" y1="557.7" y2="557.7" stroke="#222" stroke-width="1"/><text transform="translate(404.8,561.0) scale(0.9,1)" text-anchor="end" font-size="9.4">100</text><path d="M432.3 611.2V610.0M429.1 610.0h6.4" stroke="#222" stroke-width="0.9" fill="none"/><rect x="425.2" y="611.2" width="14.2" height="13.8" fill="#fff" stroke="#222" stroke-width="0.9"/><path d="M448.5 594.7V593.7M445.3 593.7h6.4" stroke="#222" stroke-width="0.9" fill="none"/><rect x="441.4" y="594.7" width="14.2" height="30.3" fill="#fff" stroke="#222" stroke-width="0.9"/><path d="M479.70000000000005 598.1V597.1M476.50000000000006 597.1h6.4" stroke="#222" stroke-width="0.9" fill="none"/><rect x="472.6" y="598.1" width="14.2" height="26.9" fill="#fff" stroke="#222" stroke-width="0.9"/><path d="M495.8 585.6V582.9M492.6 582.9h6.4" stroke="#222" stroke-width="0.9" fill="none"/><rect x="488.7" y="585.6" width="14.2" height="39.4" fill="#fff" stroke="#222" stroke-width="0.9"/><text transform="translate(388,589.2) rotate(-90) scale(1.0,1)" text-anchor="middle" font-size="8.4">Wound closure (%)</text>
<path d="M408.6 635.3V709.7H520" fill="none" stroke="#222" stroke-width="1.1"/><line x1="405.8" x2="408.6" y1="709.7" y2="709.7" stroke="#222" stroke-width="1"/><text transform="translate(404.8,713.0) scale(0.9,1)" text-anchor="end" font-size="9.4">0</text><line x1="405.8" x2="408.6" y1="676.2" y2="676.2" stroke="#222" stroke-width="1"/><text transform="translate(404.8,679.5) scale(0.9,1)" text-anchor="end" font-size="9.4">50</text><line x1="405.8" x2="408.6" y1="642.8" y2="642.8" stroke="#222" stroke-width="1"/><text transform="translate(404.8,646.1) scale(0.9,1)" text-anchor="end" font-size="9.4">100</text><path d="M432.3 657.8V655.7M429.1 655.7h6.4" stroke="#222" stroke-width="0.9" fill="none"/><rect x="425.2" y="657.8" width="14.2" height="51.9" fill="#fff" stroke="#222" stroke-width="0.9"/><path d="M448.5 650.4V649.4M445.3 649.4h6.4" stroke="#222" stroke-width="0.9" fill="none"/><rect x="441.4" y="650.4" width="14.2" height="59.3" fill="#fff" stroke="#222" stroke-width="0.9"/><path d="M479.70000000000005 656.8V655.8M476.50000000000006 655.8h6.4" stroke="#222" stroke-width="0.9" fill="none"/><rect x="472.6" y="656.8" width="14.2" height="52.9" fill="#fff" stroke="#222" stroke-width="0.9"/><path d="M495.8 647.3V645.2M492.6 645.2h6.4" stroke="#222" stroke-width="0.9" fill="none"/><rect x="488.7" y="647.3" width="14.2" height="62.4" fill="#fff" stroke="#222" stroke-width="0.9"/><text transform="translate(388,670.4) rotate(-90) scale(1.07,1)" text-anchor="middle" font-size="8.5">Wound closure (%)</text>
<path d="M425.4 564.2V560.2H455.4V564.2" fill="none" stroke="#222" stroke-width="0.9"/><text x="440.3" y="563.6" text-anchor="middle" font-size="17" font-weight="bold">*</text><path d="M472.8 564.2V560.2H502.8V564.2" fill="none" stroke="#222" stroke-width="0.9"/><text x="487.8" y="563.6" text-anchor="middle" font-size="17" font-weight="bold">*</text><path d="M425.4 579.8V575.8H486.8V579.8" fill="none" stroke="#222" stroke-width="0.9"/><text x="456" y="579.1999999999999" text-anchor="middle" font-size="17" font-weight="bold">*</text>
<text transform="translate(439.1,715.3) rotate(-45)" text-anchor="end" font-size="8.8">Mock</text><text transform="translate(451.4,717.2) rotate(-45)" text-anchor="end" font-size="9.3">TGF-β<tspan font-size="5.8">1</tspan></text><text transform="translate(486.4,715.3) rotate(-45)" text-anchor="end" font-size="8.8">Mock</text><text transform="translate(498.7,717.2) rotate(-45)" text-anchor="end" font-size="9.3">TGF-β<tspan font-size="5.8">1</tspan></text>
</g>
</svg>
</body></html>
